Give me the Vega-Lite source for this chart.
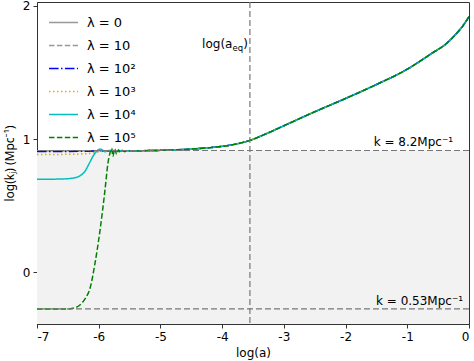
{
  "$schema": "https://vega.github.io/schema/vega-lite/v6.json",
  "width": 432,
  "height": 322,
  "autosize": "none",
  "padding": {"left": 37, "top": 2, "right": 5, "bottom": 37},
  "config": {
    "font": "DejaVu Sans",
    "view": {"stroke": "#333", "strokeWidth": 1},
    "axis": {"grid": false, "domainColor": "#333", "tickColor": "#333", "labelColor": "#000", "titleColor": "#000", "labelFontSize": 12, "titleFontSize": 12, "titleFontWeight": "normal", "labelFont": "DejaVu Sans", "titleFont": "DejaVu Sans", "tickSize": 4, "labelPadding": 3}
  },
  "datasets": {
    "curves": [
      {"lam": "λ = 0", "a": -7, "k": 0.912}, {"lam": "λ = 0", "a": -6, "k": 0.912},
      {"lam": "λ = 0", "a": -5.5, "k": 0.912}, {"lam": "λ = 0", "a": -5.0, "k": 0.915}, {"lam": "λ = 0", "a": -4.6, "k": 0.922}, {"lam": "λ = 0", "a": -4.1, "k": 0.94}, {"lam": "λ = 0", "a": -3.8, "k": 0.96}, {"lam": "λ = 0", "a": -3.55, "k": 0.99}, {"lam": "λ = 0", "a": -3.3, "k": 1.037}, {"lam": "λ = 0", "a": -3.0, "k": 1.10}, {"lam": "λ = 0", "a": -2.5, "k": 1.205}, {"lam": "λ = 0", "a": -2.0, "k": 1.305}, {"lam": "λ = 0", "a": -1.5, "k": 1.41}, {"lam": "λ = 0", "a": -1.0, "k": 1.525}, {"lam": "λ = 0", "a": -0.6, "k": 1.645}, {"lam": "λ = 0", "a": -0.36, "k": 1.72}, {"lam": "λ = 0", "a": -0.2, "k": 1.795}, {"lam": "λ = 0", "a": -0.1, "k": 1.85}, {"lam": "λ = 0", "a": 0, "k": 1.92},

      {"lam": "λ = 10", "a": -7, "k": 0.912}, {"lam": "λ = 10", "a": -6, "k": 0.912},
      {"lam": "λ = 10", "a": -5.5, "k": 0.912}, {"lam": "λ = 10", "a": -5.0, "k": 0.915}, {"lam": "λ = 10", "a": -4.6, "k": 0.922}, {"lam": "λ = 10", "a": -4.1, "k": 0.94}, {"lam": "λ = 10", "a": -3.8, "k": 0.96}, {"lam": "λ = 10", "a": -3.55, "k": 0.99}, {"lam": "λ = 10", "a": -3.3, "k": 1.037}, {"lam": "λ = 10", "a": -3.0, "k": 1.10}, {"lam": "λ = 10", "a": -2.5, "k": 1.205}, {"lam": "λ = 10", "a": -2.0, "k": 1.305}, {"lam": "λ = 10", "a": -1.5, "k": 1.41}, {"lam": "λ = 10", "a": -1.0, "k": 1.525}, {"lam": "λ = 10", "a": -0.6, "k": 1.645}, {"lam": "λ = 10", "a": -0.36, "k": 1.72}, {"lam": "λ = 10", "a": -0.2, "k": 1.795}, {"lam": "λ = 10", "a": -0.1, "k": 1.85}, {"lam": "λ = 10", "a": 0, "k": 1.92},

      {"lam": "λ = 10²", "a": -7, "k": 0.906}, {"lam": "λ = 10²", "a": -6.5, "k": 0.907}, {"lam": "λ = 10²", "a": -6, "k": 0.91},
      {"lam": "λ = 10²", "a": -5.5, "k": 0.912}, {"lam": "λ = 10²", "a": -5.0, "k": 0.915}, {"lam": "λ = 10²", "a": -4.6, "k": 0.922}, {"lam": "λ = 10²", "a": -4.1, "k": 0.94}, {"lam": "λ = 10²", "a": -3.8, "k": 0.96}, {"lam": "λ = 10²", "a": -3.55, "k": 0.99}, {"lam": "λ = 10²", "a": -3.3, "k": 1.037}, {"lam": "λ = 10²", "a": -3.0, "k": 1.10}, {"lam": "λ = 10²", "a": -2.5, "k": 1.205}, {"lam": "λ = 10²", "a": -2.0, "k": 1.305}, {"lam": "λ = 10²", "a": -1.5, "k": 1.41}, {"lam": "λ = 10²", "a": -1.0, "k": 1.525}, {"lam": "λ = 10²", "a": -0.6, "k": 1.645}, {"lam": "λ = 10²", "a": -0.36, "k": 1.72}, {"lam": "λ = 10²", "a": -0.2, "k": 1.795}, {"lam": "λ = 10²", "a": -0.1, "k": 1.85}, {"lam": "λ = 10²", "a": 0, "k": 1.92},

      {"lam": "λ = 10³", "a": -7, "k": 0.884}, {"lam": "λ = 10³", "a": -6.5, "k": 0.885}, {"lam": "λ = 10³", "a": -6.2, "k": 0.89}, {"lam": "λ = 10³", "a": -6.05, "k": 0.9}, {"lam": "λ = 10³", "a": -5.9, "k": 0.91}, {"lam": "λ = 10³", "a": -5.7, "k": 0.912},
      {"lam": "λ = 10³", "a": -5.5, "k": 0.912}, {"lam": "λ = 10³", "a": -5.0, "k": 0.915}, {"lam": "λ = 10³", "a": -4.6, "k": 0.922}, {"lam": "λ = 10³", "a": -4.1, "k": 0.94}, {"lam": "λ = 10³", "a": -3.8, "k": 0.96}, {"lam": "λ = 10³", "a": -3.55, "k": 0.99}, {"lam": "λ = 10³", "a": -3.3, "k": 1.037}, {"lam": "λ = 10³", "a": -3.0, "k": 1.10}, {"lam": "λ = 10³", "a": -2.5, "k": 1.205}, {"lam": "λ = 10³", "a": -2.0, "k": 1.305}, {"lam": "λ = 10³", "a": -1.5, "k": 1.41}, {"lam": "λ = 10³", "a": -1.0, "k": 1.525}, {"lam": "λ = 10³", "a": -0.6, "k": 1.645}, {"lam": "λ = 10³", "a": -0.36, "k": 1.72}, {"lam": "λ = 10³", "a": -0.2, "k": 1.795}, {"lam": "λ = 10³", "a": -0.1, "k": 1.85}, {"lam": "λ = 10³", "a": 0, "k": 1.92},

      {"lam": "λ = 10⁴", "a": -7, "k": 0.697}, {"lam": "λ = 10⁴", "a": -6.6, "k": 0.70}, {"lam": "λ = 10⁴", "a": -6.4, "k": 0.708}, {"lam": "λ = 10⁴", "a": -6.3, "k": 0.725}, {"lam": "λ = 10⁴", "a": -6.22, "k": 0.76}, {"lam": "λ = 10⁴", "a": -6.15, "k": 0.82}, {"lam": "λ = 10⁴", "a": -6.08, "k": 0.88}, {"lam": "λ = 10⁴", "a": -6.02, "k": 0.915}, {"lam": "λ = 10⁴", "a": -5.97, "k": 0.925}, {"lam": "λ = 10⁴", "a": -5.93, "k": 0.915}, {"lam": "λ = 10⁴", "a": -5.9, "k": 0.905}, {"lam": "λ = 10⁴", "a": -5.86, "k": 0.912}, {"lam": "λ = 10⁴", "a": -5.8, "k": 0.914}, {"lam": "λ = 10⁴", "a": -5.7, "k": 0.912},
      {"lam": "λ = 10⁴", "a": -5.5, "k": 0.912}, {"lam": "λ = 10⁴", "a": -5.0, "k": 0.915}, {"lam": "λ = 10⁴", "a": -4.6, "k": 0.922}, {"lam": "λ = 10⁴", "a": -4.1, "k": 0.94}, {"lam": "λ = 10⁴", "a": -3.8, "k": 0.96}, {"lam": "λ = 10⁴", "a": -3.55, "k": 0.99}, {"lam": "λ = 10⁴", "a": -3.3, "k": 1.037}, {"lam": "λ = 10⁴", "a": -3.0, "k": 1.10}, {"lam": "λ = 10⁴", "a": -2.5, "k": 1.205}, {"lam": "λ = 10⁴", "a": -2.0, "k": 1.305}, {"lam": "λ = 10⁴", "a": -1.5, "k": 1.41}, {"lam": "λ = 10⁴", "a": -1.0, "k": 1.525}, {"lam": "λ = 10⁴", "a": -0.6, "k": 1.645}, {"lam": "λ = 10⁴", "a": -0.36, "k": 1.72}, {"lam": "λ = 10⁴", "a": -0.2, "k": 1.795}, {"lam": "λ = 10⁴", "a": -0.1, "k": 1.85}, {"lam": "λ = 10⁴", "a": 0, "k": 1.92},

      {"lam": "λ = 10⁵", "a": -7, "k": -0.277}, {"lam": "λ = 10⁵", "a": -6.5, "k": -0.277}, {"lam": "λ = 10⁵", "a": -6.42, "k": -0.272}, {"lam": "λ = 10⁵", "a": -6.35, "k": -0.262}, {"lam": "λ = 10⁵", "a": -6.3, "k": -0.245}, {"lam": "λ = 10⁵", "a": -6.22, "k": -0.2}, {"lam": "λ = 10⁵", "a": -6.14, "k": -0.12}, {"lam": "λ = 10⁵", "a": -6.06, "k": 0.067}, {"lam": "λ = 10⁵", "a": -5.98, "k": 0.31}, {"lam": "λ = 10⁵", "a": -5.9, "k": 0.61}, {"lam": "λ = 10⁵", "a": -5.85, "k": 0.82}, {"lam": "λ = 10⁵", "a": -5.82, "k": 0.89}, {"lam": "λ = 10⁵", "a": -5.79, "k": 0.93}, {"lam": "λ = 10⁵", "a": -5.77, "k": 0.87}, {"lam": "λ = 10⁵", "a": -5.74, "k": 0.925}, {"lam": "λ = 10⁵", "a": -5.71, "k": 0.885}, {"lam": "λ = 10⁵", "a": -5.68, "k": 0.92}, {"lam": "λ = 10⁵", "a": -5.65, "k": 0.9}, {"lam": "λ = 10⁵", "a": -5.62, "k": 0.915}, {"lam": "λ = 10⁵", "a": -5.58, "k": 0.905}, {"lam": "λ = 10⁵", "a": -5.54, "k": 0.913},
      {"lam": "λ = 10⁵", "a": -5.5, "k": 0.912}, {"lam": "λ = 10⁵", "a": -5.0, "k": 0.915}, {"lam": "λ = 10⁵", "a": -4.6, "k": 0.922}, {"lam": "λ = 10⁵", "a": -4.1, "k": 0.94}, {"lam": "λ = 10⁵", "a": -3.8, "k": 0.96}, {"lam": "λ = 10⁵", "a": -3.55, "k": 0.99}, {"lam": "λ = 10⁵", "a": -3.3, "k": 1.037}, {"lam": "λ = 10⁵", "a": -3.0, "k": 1.10}, {"lam": "λ = 10⁵", "a": -2.5, "k": 1.205}, {"lam": "λ = 10⁵", "a": -2.0, "k": 1.305}, {"lam": "λ = 10⁵", "a": -1.5, "k": 1.41}, {"lam": "λ = 10⁵", "a": -1.0, "k": 1.525}, {"lam": "λ = 10⁵", "a": -0.6, "k": 1.645}, {"lam": "λ = 10⁵", "a": -0.36, "k": 1.72}, {"lam": "λ = 10⁵", "a": -0.2, "k": 1.795}, {"lam": "λ = 10⁵", "a": -0.1, "k": 1.85}, {"lam": "λ = 10⁵", "a": 0, "k": 1.92}
    ]
  },
  "layer": [
    {
      "data": {"values": [{"a0": -7, "a1": 0, "k0": -0.39, "k1": 0.914}]},
      "mark": {"type": "rect", "fill": "#f2f2f2", "stroke": null},
      "encoding": {
        "x": {"field": "a0", "type": "quantitative"},
        "x2": {"field": "a1"},
        "y": {"field": "k0", "type": "quantitative"},
        "y2": {"field": "k1"}
      }
    },
    {
      "data": {"name": "curves"},
      "mark": {"type": "line", "strokeWidth": 1.5, "clip": true, "interpolate": "monotone"},
      "encoding": {
        "x": {"field": "a", "type": "quantitative", "scale": {"domain": [-7, 0], "nice": false, "zero": false}, "axis": {"title": "log(a)", "values": [-7, -6, -5, -4, -3, -2, -1, 0], "format": "d", "labelExpr": "replace(datum.label, '−', '-')", "titlePadding": 5}},
        "y": {"field": "k", "type": "quantitative", "scale": {"domain": [-0.39, 2.03], "nice": false, "zero": false}, "axis": {"title": "log(kⱼ) (Mpc⁻¹)", "titleFont": "Noto Sans", "values": [0, 1, 2], "format": "d", "titlePadding": 6}},
        "color": {"field": "lam", "type": "nominal", "sort": null,
          "scale": {"domain": ["λ = 0", "λ = 10", "λ = 10²", "λ = 10³", "λ = 10⁴", "λ = 10⁵"], "range": ["#999999", "#999999", "#0000ff", "#d4b000", "#00bfbf", "#008000"]},
          "legend": {"title": null, "orient": "none", "legendX": 11, "legendY": 5, "symbolType": "stroke", "symbolSize": 841, "symbolStrokeWidth": 1.5, "labelFontSize": 13, "labelFont": "DejaVu Sans", "rowPadding": -7, "labelOffset": 8}},
        "strokeDash": {"field": "lam", "type": "nominal", "sort": null,
          "scale": {"domain": ["λ = 0", "λ = 10", "λ = 10²", "λ = 10³", "λ = 10⁴", "λ = 10⁵"], "range": [[1, 0], [5.5, 2.4], [9.6, 2.4, 1.5, 2.4], [1.5, 2.5], [1, 0], [5.5, 2.4]]},
          "legend": {"title": null, "orient": "none", "legendX": 11, "legendY": 5, "symbolType": "stroke", "symbolSize": 841, "symbolStrokeWidth": 1.5, "labelFontSize": 13, "labelFont": "DejaVu Sans", "rowPadding": -7, "labelOffset": 8}}
      }
    },
    {
      "data": {"values": [{"k": 0.914}, {"k": -0.277}]},
      "mark": {"type": "rule", "color": "#777", "strokeWidth": 1.2, "strokeDash": [6, 3]},
      "encoding": {"y": {"field": "k", "type": "quantitative"}}
    },
    {
      "data": {"values": [{"a": -3.55}]},
      "mark": {"type": "rule", "color": "#777", "strokeWidth": 1.2, "strokeDash": [6, 3]},
      "encoding": {"x": {"field": "a", "type": "quantitative"}}
    },
    {
      "data": {"values": [{"a": -3.55, "k": 1.685, "t1": "log(a", "t2": "eq", "t3": ")"}]},
      "encoding": {"x": {"field": "a", "type": "quantitative"}, "y": {"field": "k", "type": "quantitative"}},
      "layer": [
        {"mark": {"type": "text", "align": "right", "baseline": "alphabetic", "fontSize": 12, "dx": -17.5, "color": "#000"}, "encoding": {"text": {"field": "t1"}}},
        {"mark": {"type": "text", "align": "right", "baseline": "alphabetic", "fontSize": 8.5, "dx": -6.7, "dy": 3, "color": "#000"}, "encoding": {"text": {"field": "t2"}}},
        {"mark": {"type": "text", "align": "right", "baseline": "alphabetic", "fontSize": 12, "dx": -2, "color": "#000"}, "encoding": {"text": {"field": "t3"}}}
      ]
    },
    {
      "data": {"values": [{"a": -0.258, "k": 0.914, "t": "k = 8.2Mpc⁻¹"}, {"a": -0.096, "k": -0.277, "t": "k = 0.53Mpc⁻¹"}]},
      "mark": {"type": "text", "align": "right", "baseline": "alphabetic", "fontSize": 12, "dy": -4, "color": "#000"},
      "encoding": {"x": {"field": "a", "type": "quantitative"}, "y": {"field": "k", "type": "quantitative"}, "text": {"field": "t"}}
    }
  ]
}
